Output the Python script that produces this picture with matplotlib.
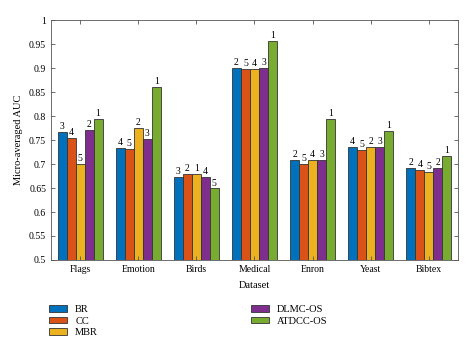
import numpy as np
import matplotlib
matplotlib.use('Agg')
import matplotlib.pyplot as plt

plt.rcParams['font.family'] = ['Liberation Serif', 'DejaVu Serif']

datasets = ['Flags', 'Emotion', 'Birds', 'Medical', 'Enron', 'Yeast', 'Bibtex']
methods = ['BR', 'CC', 'MBR', 'DLMC-OS', 'ATDCC-OS']
colors = ['#0072BD', '#D95319', '#EDB120', '#7E2F8E', '#77AC30']

br    = [0.767, 0.733, 0.672, 0.901, 0.708, 0.736, 0.691]
cc    = [0.754, 0.732, 0.679, 0.899, 0.701, 0.729, 0.688]
mbr   = [0.701, 0.775, 0.679, 0.899, 0.708, 0.735, 0.684]
dlmc  = [0.770, 0.752, 0.672, 0.900, 0.708, 0.735, 0.691]
atdcc = [0.794, 0.861, 0.649, 0.957, 0.793, 0.769, 0.716]

rank_br    = [3, 4, 3, 2, 2, 4, 2]
rank_cc    = [4, 5, 2, 5, 5, 5, 4]
rank_mbr   = [5, 2, 1, 4, 4, 2, 5]
rank_dlmc  = [2, 3, 4, 3, 3, 3, 2]
rank_atdcc = [1, 1, 5, 1, 1, 1, 1]

values = [br, cc, mbr, dlmc, atdcc]
ranks = [rank_br, rank_cc, rank_mbr, rank_dlmc, rank_atdcc]

fig = plt.figure(figsize=(4.74, 3.52), dpi=100)
ax = fig.add_axes([0.1076, 0.2614, 0.8584, 0.6816])

x = np.arange(1, len(datasets) + 1)
w = 0.155
handles = []
for i, (vals, rk) in enumerate(zip(values, ranks)):
    pos = x + (i - 2) * w
    b = ax.bar(pos, vals, width=w, color=colors[i], edgecolor='#333333',
               linewidth=0.6, label=methods[i])
    handles.append(b)
    for p, v, r in zip(pos, vals, rk):
        ax.text(p, v + 0.002, str(r), ha='center', va='bottom', fontsize=7)

ax.set_xlim(0.5, 7.5)
ax.set_ylim(0.5, 1.0)
ax.set_yticks(np.arange(0.5, 1.001, 0.05))
ax.set_yticklabels(['0.5', '0.55', '0.6', '0.65', '0.7', '0.75', '0.8',
                    '0.85', '0.9', '0.95', '1'])
ax.set_xticks(x)
ax.set_xticklabels(datasets)
ax.tick_params(direction='in', top=True, right=True, labelsize=7,
               length=3, width=0.6, color='#555555')
for s in ax.spines.values():
    s.set_linewidth(0.6)
    s.set_color('#555555')
ax.set_xlabel('Dataset', fontsize=7.5, labelpad=5)
ax.set_ylabel('Micro-averaged AUC', fontsize=7.5)

fig.legend(handles[:3], methods[:3], loc='upper left',
           bbox_to_anchor=(0.095, 0.145), frameon=False, fontsize=7.5,
           handlelength=1.7, handleheight=0.6, labelspacing=0.25,
           borderaxespad=0)
fig.legend(handles[3:], methods[3:], loc='upper left',
           bbox_to_anchor=(0.521, 0.145), frameon=False, fontsize=7.5,
           handlelength=1.7, handleheight=0.6, labelspacing=0.25,
           borderaxespad=0)

plt.savefig('out.png', dpi=100)
plt.close()
